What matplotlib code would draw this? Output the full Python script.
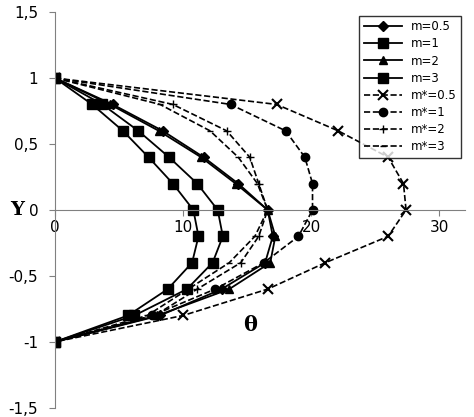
import numpy as np
import matplotlib.pyplot as plt

y = [1, 0.8, 0.6, 0.4, 0.2, 0, -0.2, -0.4, -0.6, -0.8, -1]

m05 = [0, 4.5, 8.4, 11.6, 14.3, 16.6, 17.0, 16.4, 13.0, 8.2, 0]
m1 = [0, 3.7, 6.5, 8.9, 11.1, 12.7, 13.1, 12.3, 10.3, 6.2, 0]
m2 = [0, 4.3, 8.1, 11.4, 14.1, 16.6, 17.2, 16.8, 13.6, 8.0, 0]
m3 = [0, 2.9, 5.3, 7.3, 9.2, 10.8, 11.2, 10.7, 8.8, 5.7, 0]
ms05 = [0, 17.3, 22.1, 26.0, 27.2, 27.4, 26.0, 21.1, 16.6, 10.0, 0]
ms1 = [0, 13.7, 18.0, 19.5, 20.1, 20.1, 19.0, 16.3, 12.5, 7.6, 0]
ms2 = [0, 9.2, 13.4, 15.2, 15.9, 16.6, 15.9, 14.5, 11.1, 7.8, 0]
ms3 = [0, 8.2, 12.1, 14.3, 15.8, 16.6, 15.6, 13.6, 10.4, 7.2, 0]

fig = plt.figure(figsize=(4.74, 4.17), dpi=100)
ax = fig.add_axes([0.116, 0.022, 0.865, 0.949])

k = dict(color='black', lw=1.3)
ax.plot(m05, y, marker='D', ms=5, label='m=0.5', **k)
ax.plot(m1, y, marker='s', ms=7, label='m=1', **k)
ax.plot(m2, y, marker='^', ms=6, label='m=2', **k)
ax.plot(m3, y, marker='s', ms=7, label='m=3', **k)
d = dict(color='black', lw=1.2, ls='--')
ax.plot(ms05, y, marker='x', ms=7, mew=1.5, label='m*=0.5', **d)
ax.plot(ms1, y, marker='o', ms=6, label='m*=1', **d)
ax.plot(ms2, y, marker='+', ms=6, label='m*=2', **d)
ax.plot(ms3, y, marker='_', ms=5, label='m*=3', **d)

ax.set_xlim(0, 32)
ax.set_ylim(-1.5, 1.5)
ax.spines['left'].set_position(('data', 0))
ax.spines['bottom'].set_position(('data', 0))
ax.spines['bottom'].set_color('gray')
ax.spines['left'].set_color('gray')
ax.spines['top'].set_visible(False)
ax.spines['right'].set_visible(False)
ax.set_xticks([0, 10, 20, 30])
ax.set_yticks([-1.5, -1, -0.5, 0, 0.5, 1, 1.5])
ax.set_yticklabels(['-1,5', '-1', '-0,5', '0', '0,5', '1', '1,5'])
ax.tick_params(labelsize=11, color='gray', direction='out', length=4)
ax.tick_params(axis='y', pad=8)

ax.text(-2.4, 0, 'Y', fontsize=14, fontweight='bold', family='DejaVu Serif', ha='right', va='center')
ax.text(15.2, -0.92, 'θ', fontsize=15, fontweight='bold', family='DejaVu Serif', ha='center')

leg = ax.legend(loc='upper right', bbox_to_anchor=(1.0, 1.0), fontsize=8.5,
                fancybox=False, edgecolor='black', handlelength=3.2,
                borderaxespad=0.3, labelspacing=0.35)
leg.get_frame().set_linewidth(1)

fig.savefig('out.png', dpi=100)
